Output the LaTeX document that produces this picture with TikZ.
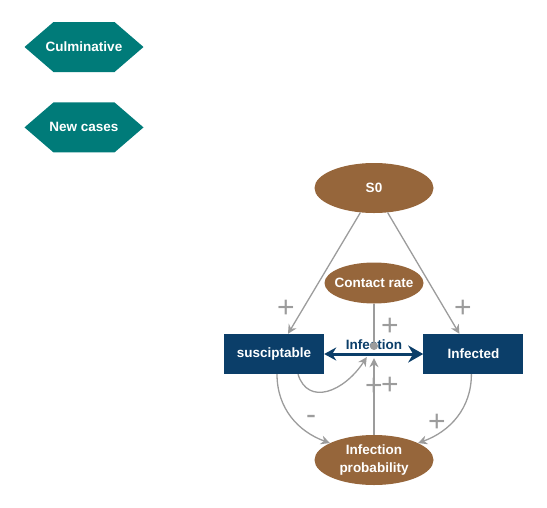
\documentclass[tikz,border=0pt]{standalone}
\usepackage{fontspec}
\setmainfont{Liberation Sans}
\usepackage{tikz}
\usetikzlibrary{shapes.geometric,arrows.meta,calc,positioning}
\definecolor{stockteal}{HTML}{007B79}
\definecolor{auxbrown}{HTML}{96663B}
\definecolor{levelblue}{HTML}{0B3E69}
\definecolor{linkgray}{HTML}{9C9C9C}
\tikzset{
        stock/.style = {rectangle, fill=levelblue, text=white,
            font=\bfseries\fontsize{13.5}{16}\selectfont,
            minimum width=100pt, minimum height=40pt, inner sep=0pt},
        aux/.style = {ellipse, fill=auxbrown, text=white,
            font=\bfseries\fontsize{13.5}{17.5}\selectfont, inner sep=0pt},
        hexa/.style = {rectangle, text=white,
            font=\bfseries\fontsize{13.5}{16}\selectfont,
            minimum width=119pt, minimum height=50pt, inner sep=0pt,
            path picture={\fill[stockteal] (path picture bounding box.west)
                -- ([xshift=29pt]path picture bounding box.north west)
                -- ([xshift=-29pt]path picture bounding box.north east)
                -- (path picture bounding box.east)
                -- ([xshift=-29pt]path picture bounding box.south east)
                -- ([xshift=29pt]path picture bounding box.south west) -- cycle;}},
        valve/.style = {circle, fill=linkgray, minimum size=8pt, inner sep=0pt},
        link/.style = {draw=linkgray, line width=1.3pt, -{Stealth[length=9pt,width=9pt]}},
        flow/.style = {draw=levelblue, line width=3pt,
            {Stealth[length=12pt,width=13pt]}-{Stealth[length=15pt,width=17pt]}},
        flowtext/.style = {text=levelblue, font=\bfseries\fontsize{13.5}{16}\selectfont, inner sep=0pt},
        sign/.style = {text=linkgray, font=\fontsize{30}{30}\selectfont, inner sep=0pt},
    }

\begin{document}
\begin{tikzpicture}[x=1pt,y=-1pt]
    \useasboundingbox (0,0) rectangle (547,507);

    % converters on the left
    \node[hexa] (cum) at (84,47) {Culminative};
    \node[hexa, below=30pt of cum] (newc) {New cases};

    % model
    \node[aux, minimum width=119pt, minimum height=50pt] (s0) at (374,188) {S0};
    \node[aux, inner xsep=-6pt, minimum width=99pt, minimum height=41pt] (contact) at (374,283) {Contact rate};
    \node[stock] (susc) at (274,354) {susciptable};
    \node[stock, right=99pt of susc] (inf) {Infected};
    \node[aux, minimum width=119pt, minimum height=50pt, align=center] (prob) at (374,460) {Infection\\probability};

    % flow between the stocks
    \draw[flow] (susc.east) -- (inf.west);
    \node[flowtext] (flowtxt) at (374,345) {Infection};
    \node[valve] (valve) at (374,346) {};

    % links
    \draw[link] (s0.241) -- ([xshift=14pt]susc.north);
    \draw[link] (s0.299) -- ([xshift=-14pt]inf.north);
    \draw[link, -] (contact.south) -- (valve);
    \draw[link, shorten >=8pt] (prob.north) -- (valve);
    \draw[link, shorten >=9pt] ([xshift=24pt]susc.south) .. controls +(10,32) and +(-30,46) .. (valve);
    \draw[link] ([xshift=3pt]susc.south) to[out=-90,in=160] (prob.159);
    \draw[link] ([xshift=-2pt]inf.south) to[out=-90,in=20] (prob.21);

    % polarities
    \node[sign] (ps1) at (286,309) {+};
    \node[sign] (ps2) at (463,309) {+};
    \node[sign] (pc) at (390,327) {+};
    \node[sign] (pv1) at (374,387) {+};
    \node[sign] (pv2) at (390,386) {+};
    \node[sign] (mprob) at (311,420) {-};
    \node[sign] (pprob) at (437,423) {+};
\end{tikzpicture}
\end{document}
